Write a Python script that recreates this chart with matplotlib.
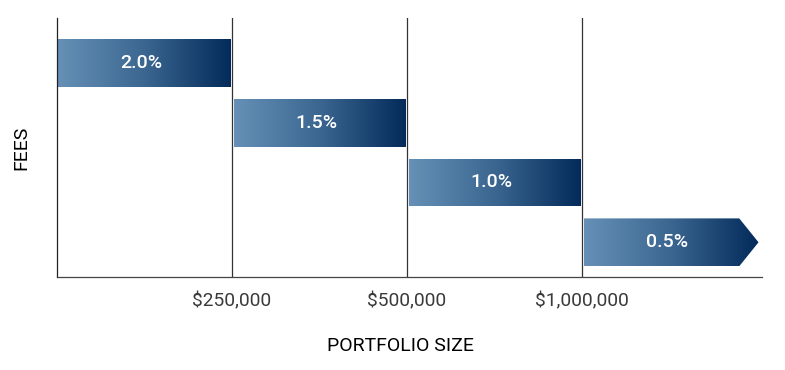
import numpy as np
import matplotlib.pyplot as plt
from matplotlib.patches import Polygon
from matplotlib.colors import LinearSegmentedColormap

# fee tiers
fees = ["2.0%", "1.5%", "1.0%", "0.5%"]
tier_start = [0, 1, 2, 3]
tier_end = [1, 2, 3, 3.9]
breakpoints = [1, 2, 3]
breakpoint_labels = ["$250,000", "$500,000", "$1,000,000"]

plt.rcParams['font.family'] = ['Roboto', 'DejaVu Sans']

fig = plt.figure(figsize=(7.85, 3.7), dpi=100)
ax = fig.add_axes([57 / 785, 1 - 277 / 370, 705 / 785, 259 / 370])

cmap = LinearSegmentedColormap.from_list("fee", ["#6690b6", "#3b6690", "#032a5a"])
grad = np.linspace(0, 1, 256).reshape(1, -1)

h = 0.4
gap = 0.01
for i, (x0, x1, lab) in enumerate(zip(tier_start, tier_end, fees)):
    y = i
    x0 = x0 + (gap if i > 0 else 0.005)
    if i == len(fees) - 1:
        pts = [(x0, y - h), (x1, y - h), (x1 + 0.11, y), (x1, y + h), (x0, y + h)]
        xr = x1 + 0.11
    else:
        x1 = x1 - 0.005
        pts = [(x0, y - h), (x1, y - h), (x1, y + h), (x0, y + h)]
        xr = x1
    poly = Polygon(pts, closed=True, facecolor='none', edgecolor='none')
    ax.add_patch(poly)
    im = ax.imshow(grad, cmap=cmap, aspect='auto', extent=[x0, xr, y + h, y - h],
                   interpolation='bicubic', zorder=2)
    im.set_clip_path(poly)
    ax.text((x0 + xr) / 2 - 0.02, y, lab, color='white', fontsize=14, fontweight='medium',
            ha='center', va='center', zorder=3)

for b in breakpoints:
    ax.axvline(b, color='#333333', lw=0.9, zorder=1)

ax.set_xlim(0, 4.03)
ax.set_ylim(3.58, -0.75)
ax.set_xticks(breakpoints)
ax.set_xticklabels(breakpoint_labels, fontsize=13.8, fontweight='normal', color='#3a3a3a')
ax.tick_params(axis='x', length=0, pad=11)
ax.set_yticks([])
for s in ['top', 'right']:
    ax.spines[s].set_visible(False)
ax.spines['left'].set_color('#222222')
ax.spines['bottom'].set_color('#444444')
ax.spines['left'].set_linewidth(0.9)
ax.spines['bottom'].set_linewidth(0.9)

ax.set_xlabel("PORTFOLIO SIZE", fontsize=14, labelpad=19, color='black')
ax.xaxis.label.set_x(0.4865)
ax.set_ylabel("FEES", fontsize=14, labelpad=19, color='black')

fig.savefig("out.png", dpi=100)
